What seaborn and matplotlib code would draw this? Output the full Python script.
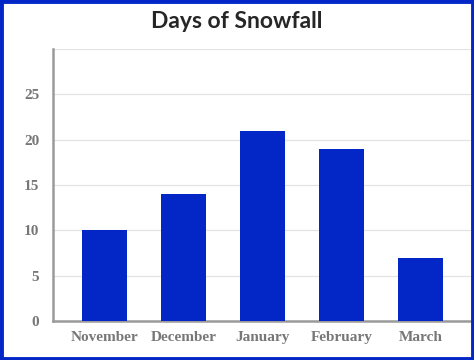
import matplotlib
matplotlib.use("Agg")
import matplotlib.pyplot as plt
import seaborn as sns
import pandas as pd
from matplotlib.patches import Rectangle

# Dados
meses = ["November", "December", "January", "February", "March"]
dias_neve = [10, 14, 21, 19, 7]
ticks_y = [0, 5, 10, 15, 20, 25]

df = pd.DataFrame({"mes": meses, "dias": dias_neve})

sns.set_style("white")

fig = plt.figure(figsize=(4.74, 3.60), dpi=100)
ax = fig.add_axes([0.112, 0.108, 0.884, 0.756])

sns.barplot(data=df, x="mes", y="dias", color="#0326C7", saturation=1,
            width=0.57, linewidth=0, ax=ax, zorder=3)

ax.set_ylim(0, 30)
ax.set_xlim(-0.65, 4.65)
ax.set_yticks(ticks_y)
ax.yaxis.grid(True, color="#e4e4e4", linewidth=0.9, zorder=0)
ax.axhline(30, color="#e4e4e4", linewidth=0.9, zorder=0)
ax.set_xlabel("")
ax.set_ylabel("")

for lado in ["top", "right"]:
    ax.spines[lado].set_visible(False)
for lado in ["left", "bottom"]:
    ax.spines[lado].set_color("#9a9a9a")
    ax.spines[lado].set_linewidth(1.8)

ax.tick_params(axis="y", length=0, pad=10, labelcolor="#777777")
ax.tick_params(axis="x", length=0, pad=7, labelcolor="#777777")
for rotulo in ax.get_xticklabels() + ax.get_yticklabels():
    rotulo.set_fontfamily("Liberation Serif")
    rotulo.set_fontweight("bold")
    rotulo.set_fontsize(11)

fig.text(0.5, 0.94, "Days of Snowfall", ha="center", va="center",
         fontsize=16.5, fontweight="bold", family=["Lato", "DejaVu Sans"])

# Moldura azul
fig.patches.append(Rectangle((0.003, 0.004), 0.994, 0.992, transform=fig.transFigure,
                             fill=False, edgecolor="#0326C7", linewidth=3.5))

fig.savefig("out.png", dpi=100)
